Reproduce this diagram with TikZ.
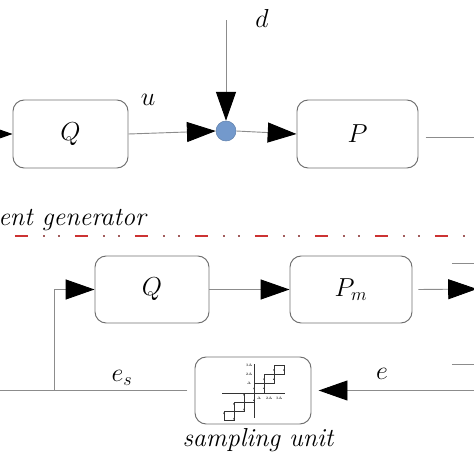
\RequirePackage{fix-cm}
\documentclass[tikz,border=0pt]{standalone}
\usetikzlibrary{arrows.meta}
\definecolor{wiregray}{HTML}{8C8C8C}
\definecolor{boxgray}{HTML}{707070}
\definecolor{sumblue}{HTML}{7399CC}
\definecolor{sepred}{HTML}{CC3333}
\begin{document}
\begin{tikzpicture}[
  >={Triangle[length=0.72cm,width=0.5cm,color=black]},
  block/.style={draw=boxgray,line width=0.7pt,rounded corners=0.28cm,inner sep=0pt,
    minimum height=1.7cm,font=\fontsize{18.5}{21}\selectfont},
  wire/.style={wiregray,line width=0.65pt},
  lbl/.style={font=\fontsize{18.5}{21}\selectfont},
  sepdash/.style={sepred,line width=1.8pt,dash pattern=on 0.325cm off 1.175cm},
  sepdot/.style={sepred!45!gray,line width=1.8pt,dash pattern=on 0.05cm off 0.325cm on 0.05cm off 1.075cm},
  stair/.style={black!80,line width=0.45pt},
  tick/.style={font=\fontsize{2.5}{3}\selectfont,inner sep=0pt}
]
  \useasboundingbox (0,0) rectangle (11.85,11.85);
  \clip (0,0) rectangle (11.85,11.85);

  \node[block,minimum width=2.875cm] (q1) at (1.7625,8.5) {$Q$};
  \node[circle,draw=sumblue!85!black,fill=sumblue,minimum size=0.5cm,inner sep=0pt] (sum) at (5.65,8.575) {};
  \node[block,minimum width=3.025cm] (p1) at (8.9375,8.5) {$P$};
  \coordinate (in1) at (-0.6,8.5);
  \coordinate (dist) at (5.65,11.35);
  \coordinate (out1) at (11.85,8.425);
  \draw[wire,->] (in1) -- (q1.west);
  \draw[wire,->] (q1.east) -- (sum.west);
  \draw[wire,->] (dist) -- (sum.north);
  \draw[wire,->] (sum.east) -- (p1.west);
  \draw[wire] (p1.east |- out1) ++(0.18,0) -- (out1);
  \node[lbl] (ulbl) at (3.7,9.35) {$u$};
  \node[lbl] (dlbl) at (6.55,11.4) {$d$};
  \node[lbl,anchor=base west,inner sep=0pt] (gen) at (-0.05,6.225) {\itshape ent generator};

  \draw[sepdash,dash phase=1.125cm] (0,5.95) -- (11.85,5.95);
  \draw[sepdot,dash phase=0.425cm] (0,5.95) -- (11.85,5.95);

  \node[block,minimum width=2.85cm,minimum height=1.675cm] (q2) at (3.8,4.6125) {$Q$};
  \node[block,minimum width=3.05cm,minimum height=1.675cm] (pm) at (8.775,4.6125) {$P_m$};
  \node[block,minimum width=2.9cm,minimum height=1.675cm] (su) at (6.325,2.0875) {};
  \coordinate (out2) at (11.925,4.625);
  \coordinate (fbin) at (11.85,2.0875);
  \coordinate (fbout) at (0,2.0875);
  \coordinate (br) at (1.35,2.0875);
  \draw[wire,->] (q2.east) -- (pm.west);
  \draw[wire,->] (pm.east) ++(0.15,0) -- (out2);
  \draw[wire,->] (fbin) -- ([xshift=0.18cm]su.east);
  \draw[wire] ([xshift=-0.18cm]su.west) -- (fbout);
  \draw[wire,->] (br) |- (q2.west);
  \draw[wire] (11.3,5.275) -- (11.85,5.275);
  \draw[wire] (11.3,2.75) -- (11.85,2.75);
  \node[lbl] (es) at (3.05,2.4) {$e_s$};
  \node[lbl] (elbl) at (9.55,2.5) {$e$};
  \node[lbl] (sulbl) at (6.45,0.85) {\itshape sampling unit};

  \begin{scope}[shift={(6.35,2.025)},x=0.25cm,y=0.23cm]
    \draw[stair] (-3.2,0) -- (3.1,0) (0,-2.7) -- (0,3.2);
    \foreach \k/\t in {1/,2/2,3/3} {
      \draw[stair] (\k-1,\k-1) rectangle (\k,\k);
      \draw[stair] (1-\k,1-\k) rectangle (-\k,-\k);
      \draw[stair,-{Latex[length=1.4pt,width=1.2pt]}] (\k,\k-1) -- (\k,\k-0.35);
      \draw[stair,-{Latex[length=1.4pt,width=1.2pt]}] (\k-1,\k) -- (\k-1,\k-0.65);
      \draw[stair,-{Latex[length=1.4pt,width=1.2pt]}] (-\k,1-\k) -- (-\k,0.65-\k);
      \draw[stair,-{Latex[length=1.4pt,width=1.2pt]}] (1-\k,-\k) -- (1-\k,0.35-\k);
      \node[tick] (ty\k) at (-0.5,\k) {$\t\Delta$};
      \node[tick] (tx\k) at (\k-0.5,-0.55) {$\t\Delta$};
    }
  \end{scope}
\end{tikzpicture}
\end{document}
